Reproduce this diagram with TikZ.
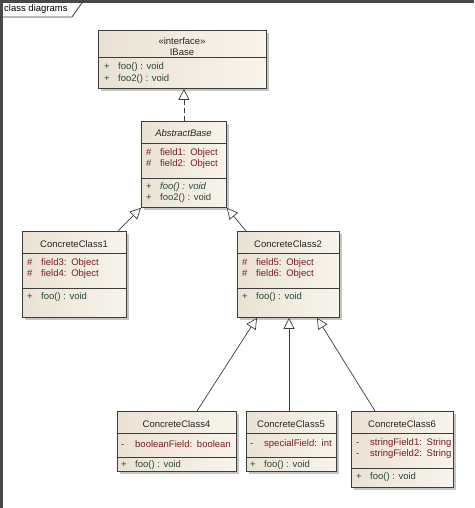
\documentclass[tikz,border=0pt]{standalone}
\usepackage{fontspec}
\setmainfont{Liberation Sans}
\usetikzlibrary{arrows.meta,shadows,calc}

\definecolor{umlfill}{RGB}{248,244,236}
\definecolor{umlfilldark}{RGB}{234,226,212}
\definecolor{umledge}{RGB}{60,60,60}
\definecolor{fieldred}{RGB}{120,28,34}
\definecolor{methgreen}{RGB}{40,72,58}
\definecolor{framegrey}{RGB}{72,72,72}

\newcommand{\umlvis}[1]{\makebox[14pt][l]{#1}}

\begin{document}
\begin{tikzpicture}[
  x=1pt, y=-1pt,
  font=\fontsize{9.5}{11}\selectfont,
  umlbox/.style  = {draw=umledge, line width=0.8pt, rectangle, anchor=north west, inner sep=0pt,
                    left color=umlfilldark, right color=umlfill,
                    drop shadow={shadow xshift=2.5pt, shadow yshift=-2.5pt, fill=black!45}},
  divline/.style = {draw=umledge, line width=0.8pt},
  ttl/.style     = {inner sep=0pt, text=black!85},
  fld/.style     = {anchor=west, inner sep=0pt, text=fieldred},
  mth/.style     = {anchor=west, inner sep=0pt, text=methgreen},
  gen/.style     = {draw=umledge, line width=0.7pt,
                    -{Triangle[open, length=11pt, width=11pt, fill=white]}},
  realize/.style = {gen, dash pattern=on 5pt off 3pt},
]
\useasboundingbox (0,0) rectangle (474,508);

% --- diagram frame ------------------------------------------------------
\draw[framegrey, line width=3pt] (1.5,508) -- (1.5,1.5) -- (474,1.5);
\draw[divline] (0,17) -- (72,17) -- (84,0);
\node[anchor=west, inner sep=0pt] (frame-lbl) at (4,9) {class diagrams};

% --- IBase --------------------------------------------------------------
\node[umlbox, minimum width=168pt, minimum height=58pt] (ibase) at (98,30) {};
\draw[divline] ($(ibase.north west)+(0,27)$) -- ($(ibase.north east)+(0,27)$);
\node[ttl] (ibase-st) at (182,41) {«interface»};
\node[ttl] (ibase-nm) at (182,52) {IBase};
\node[mth] (ibase-m1) at (104,67) {\umlvis{+}foo() : void};
\node[mth] (ibase-m2) at (104,79) {\umlvis{+}foo2() : void};

% --- AbstractBase -------------------------------------------------------
\node[umlbox, minimum width=85pt, minimum height=86pt] (abase) at (141,121) {};
\draw[divline] ($(abase.north west)+(0,22)$) -- ($(abase.north east)+(0,22)$);
\draw[divline] ($(abase.north west)+(0,57)$) -- ($(abase.north east)+(0,57)$);
\node[ttl] (abase-nm) at (183.5,133) {\itshape AbstractBase};
\node[fld] (abase-f1) at (146,153) {\umlvis{\#}field1:\enspace Object};
\node[fld] (abase-f2) at (146,164) {\umlvis{\#}field2:\enspace Object};
\node[mth] (abase-m1) at (146,187) {\umlvis{+}\itshape foo() : void};
\node[mth] (abase-m2) at (146,198) {\umlvis{+}foo2() : void};

% --- ConcreteClass1 / ConcreteClass2 ------------------------------------
\node[umlbox, minimum width=104pt, minimum height=86pt] (cc1) at (22,231) {};
\draw[divline] ($(cc1.north west)+(0,22)$) -- ($(cc1.north east)+(0,22)$);
\draw[divline] ($(cc1.north west)+(0,57)$) -- ($(cc1.north east)+(0,57)$);
\node[ttl] (cc1-nm) at (74,244) {ConcreteClass1};
\node[fld] (cc1-f1) at (27,263) {\umlvis{\#}field3:\enspace Object};
\node[fld] (cc1-f2) at (27,274) {\umlvis{\#}field4:\enspace Object};
\node[mth] (cc1-m1) at (27,297) {\umlvis{+}foo() : void};

\node[umlbox, minimum width=102pt, minimum height=86pt] (cc2) at (237,231) {};
\draw[divline] ($(cc2.north west)+(0,22)$) -- ($(cc2.north east)+(0,22)$);
\draw[divline] ($(cc2.north west)+(0,57)$) -- ($(cc2.north east)+(0,57)$);
\node[ttl] (cc2-nm) at (288,244) {ConcreteClass2};
\node[fld] (cc2-f1) at (242,263) {\umlvis{\#}field5:\enspace Object};
\node[fld] (cc2-f2) at (242,274) {\umlvis{\#}field6:\enspace Object};
\node[mth] (cc2-m1) at (242,297) {\umlvis{+}foo() : void};

% --- bottom row ---------------------------------------------------------
\node[umlbox, minimum width=119pt, minimum height=60pt] (cc4) at (117,411) {};
\draw[divline] ($(cc4.north west)+(0,22)$) -- ($(cc4.north east)+(0,22)$);
\draw[divline] ($(cc4.north west)+(0,46)$) -- ($(cc4.north east)+(0,46)$);
\node[ttl] (cc4-nm) at (176.5,424) {ConcreteClass4};
\node[fld] (cc4-f1) at (121,444) {\umlvis{-}booleanField:\enspace boolean};
\node[mth] (cc4-m1) at (121,465) {\umlvis{+}foo() : void};

\node[umlbox, minimum width=90pt, minimum height=60pt] (cc5) at (246,411) {};
\draw[divline] ($(cc5.north west)+(0,22)$) -- ($(cc5.north east)+(0,22)$);
\draw[divline] ($(cc5.north west)+(0,46)$) -- ($(cc5.north east)+(0,46)$);
\node[ttl] (cc5-nm) at (291,424) {ConcreteClass5};
\node[fld] (cc5-f1) at (250,444) {\umlvis{-}specialField:\enspace int};
\node[mth] (cc5-m1) at (250,465) {\umlvis{+}foo() : void};

\node[umlbox, minimum width=102pt, minimum height=76pt] (cc6) at (351,411) {};
\draw[divline] ($(cc6.north west)+(0,22)$) -- ($(cc6.north east)+(0,22)$);
\draw[divline] ($(cc6.north west)+(0,57)$) -- ($(cc6.north east)+(0,57)$);
\node[ttl] (cc6-nm) at (402,424) {ConcreteClass6};
\node[fld] (cc6-f1) at (356,443) {\umlvis{-}stringField1:\enspace String};
\node[fld] (cc6-f2) at (356,454) {\umlvis{-}stringField2:\enspace String};
\node[mth] (cc6-m1) at (356,477) {\umlvis{+}foo() : void};

% --- inheritance --------------------------------------------------------
\draw[realize] (abase.north) -- (abase.north |- ibase.south);
\draw[gen] ($(cc1.north west)+(96,0)$) -- (abase.south west);
\draw[gen] ($(cc2.north west)+(9,0)$) -- (abase.south east);
\draw[gen] ($(cc4.north west)+(80,0)$) -- ($(cc2.south west)+(20,0)$);
\draw[gen] ($(cc5.north west)+(43,0)$) -- ($(cc2.south west)+(52,0)$);
\draw[gen] ($(cc6.north west)+(24,0)$) -- ($(cc2.south west)+(80,0)$);

\end{tikzpicture}
\end{document}
